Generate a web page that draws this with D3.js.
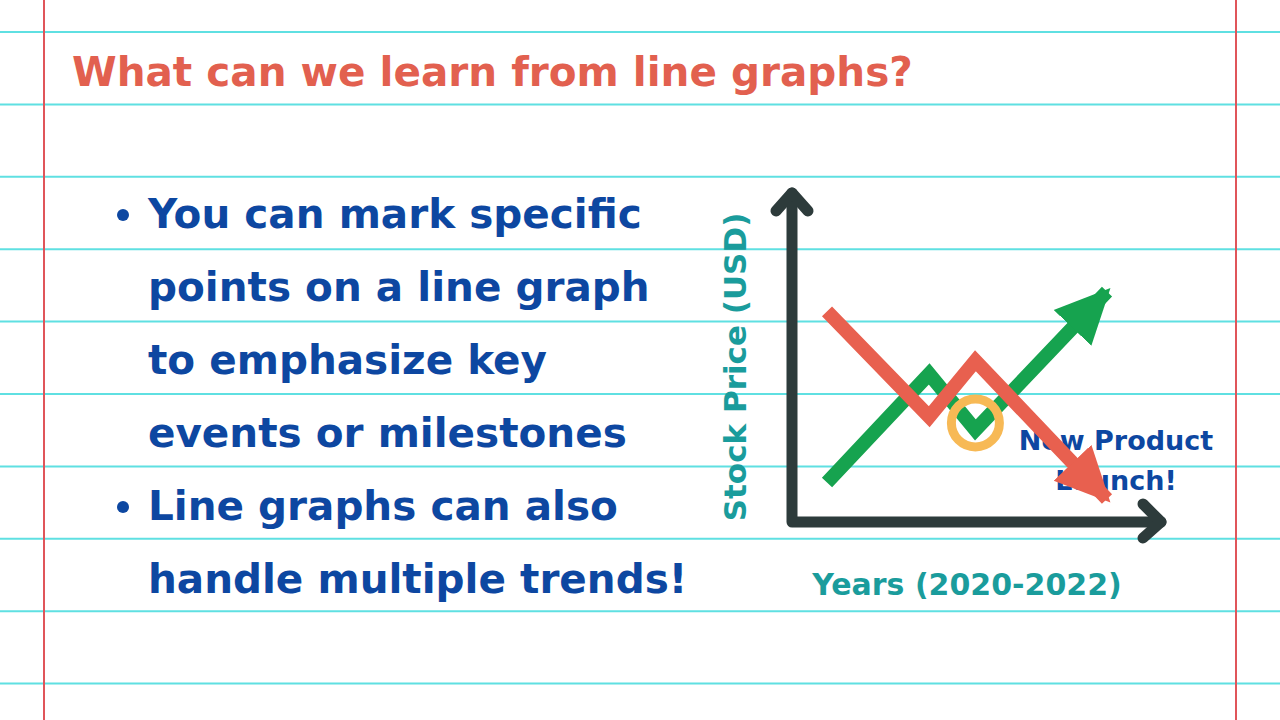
<script src="https://cdnjs.cloudflare.com/ajax/libs/d3/7.8.5/d3.min.js"></script>
<style>
  body { margin: 0; background: #fff; }
  svg { display: block; }
  text { font-family: "DejaVu Sans", sans-serif; font-weight: bold; }
</style>
<body></body>
<script>
// slide text
var title = "What can we learn from line graphs?";
var bullets = [
  ["You can mark specific", "points on a line graph", "to emphasize key", "events or milestones"],
  ["Line graphs can also", "handle multiple trends!"]
];
var yLabel = "Stock Price (USD)";
var xLabel = "Years (2020-2022)";
var noteLines = ["New Product", "Launch!"];

// series, x in years, y in price units
var years = [2020, 2020.73, 2021.06, 2022];
var greenSeries = [12, 45, 28, 70];
var redSeries = [64, 32, 49, 7];
var markIndex = 2; // green point circled

var W = 1280, H = 720;
var svg = d3.select("body").append("svg")
    .attr("width", W)
    .attr("height", H);

// notebook paper lines
var ruleY = d3.range(10).map(function(i) { return 32 + i * 72.4; });
svg.selectAll(".rule").data(ruleY).enter().append("line")
    .attr("x1", 0).attr("x2", W)
    .attr("y1", function(d) { return d; }).attr("y2", function(d) { return d; })
    .attr("stroke", "#5fe0e2").attr("stroke-width", 2);
[44, 1236].forEach(function(x) {
  svg.append("line").attr("x1", x).attr("x2", x).attr("y1", 0).attr("y2", H)
      .attr("stroke", "#e0555a").attr("stroke-width", 2);
});

svg.append("text")
    .attr("x", 72).attr("y", 86)
    .attr("fill", "#e2604f")
    .attr("font-size", 40.5)
    .text(title);

// bullets
var lineY = 228, step = 73;
bullets.forEach(function(group) {
  svg.append("circle").attr("cx", 123).attr("cy", lineY - 13).attr("r", 6).attr("fill", "#0d47a1");
  group.forEach(function(t) {
    svg.append("text")
        .attr("x", 148).attr("y", lineY)
        .attr("fill", "#0d47a1")
        .attr("font-size", 40.5)
        .text(t);
    lineY += step;
  });
});

// chart
var x = d3.scaleLinear().domain([2020, 2022]).range([827, 1107]);
var y = d3.scaleLinear().domain([0, 100]).range([522, 193]);
var axisX0 = 792, axisX1 = 1161;

var defs = svg.append("defs");
[["arrow-green", "#16a34f"], ["arrow-red", "#e8604f"]].forEach(function(m) {
  defs.append("marker")
      .attr("id", m[0])
      .attr("markerUnits", "userSpaceOnUse")
      .attr("viewBox", "0 -30 55 60")
      .attr("refX", 50).attr("refY", 0)
      .attr("markerWidth", 55).attr("markerHeight", 60)
      .attr("orient", "auto")
    .append("path")
      .attr("d", "M0,-26L55,0L0,26Z")
      .attr("fill", m[1]);
});

var axisColor = "#2d3b3b";
var axes = svg.append("g")
    .attr("fill", "none")
    .attr("stroke", axisColor)
    .attr("stroke-width", 11)
    .attr("stroke-linecap", "round")
    .attr("stroke-linejoin", "round");
axes.append("path").attr("d", "M" + axisX0 + "," + y.range()[1] + "V" + y.range()[0] + "H" + axisX1);
axes.append("path").attr("d", "M" + (axisX0 - 16) + "," + (y.range()[1] + 18) + "L" + axisX0 + "," + y.range()[1] + "L" + (axisX0 + 16) + "," + (y.range()[1] + 18));
axes.append("path").attr("d", "M" + (axisX1 - 18) + "," + (y.range()[0] - 18) + "L" + axisX1 + "," + y.range()[0] + "L" + (axisX1 - 18) + "," + (y.range()[0] + 16));

svg.append("text")
    .attr("transform", "translate(746,367) rotate(-90)")
    .attr("text-anchor", "middle")
    .attr("fill", "#1a9c9c")
    .attr("font-size", 31)
    .text(yLabel);

svg.append("text")
    .attr("x", 967).attr("y", 595)
    .attr("text-anchor", "middle")
    .attr("fill", "#1a9c9c")
    .attr("font-size", 30)
    .text(xLabel);

svg.append("text")
    .attr("x", 1116).attr("y", 450)
    .attr("text-anchor", "middle")
    .attr("fill", "#0d47a1")
    .attr("font-size", 27)
    .selectAll("tspan").data(noteLines).enter().append("tspan")
    .attr("x", 1116)
    .attr("dy", function(d, i) { return i ? 40 : 0; })
    .text(function(d) { return d; });

var line = d3.line()
    .x(function(d) { return x(d[0]); })
    .y(function(d) { return y(d[1]); });

svg.append("path")
    .datum(d3.zip(years, greenSeries))
    .attr("d", line)
    .attr("fill", "none")
    .attr("stroke", "#16a34f")
    .attr("stroke-width", 14)
    .attr("stroke-linejoin", "miter")
    .attr("marker-end", "url(#arrow-green)");

svg.append("circle")
    .attr("cx", x(years[markIndex]))
    .attr("cy", y(greenSeries[markIndex]) - 7)
    .attr("r", 24)
    .attr("fill", "none")
    .attr("stroke", "#f7b955")
    .attr("stroke-width", 9);

svg.append("path")
    .datum(d3.zip(years, redSeries))
    .attr("d", line)
    .attr("fill", "none")
    .attr("stroke", "#e8604f")
    .attr("stroke-width", 14)
    .attr("stroke-linejoin", "miter")
    .attr("marker-end", "url(#arrow-red)");
</script>
